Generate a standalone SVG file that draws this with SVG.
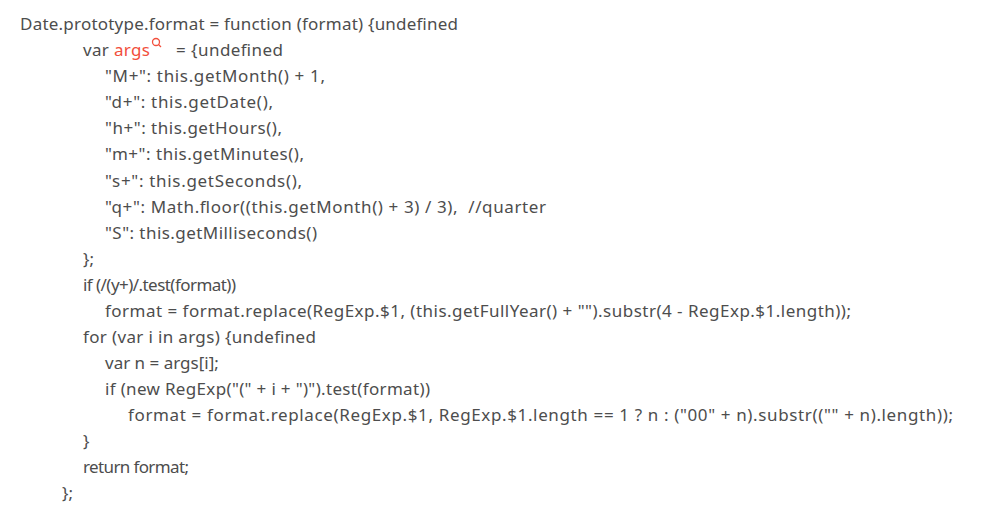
<svg xmlns="http://www.w3.org/2000/svg" width="981" height="522" viewBox="0 0 981 522">
<style>text{font-family:"Noto Sans","Open Sans",sans-serif;font-size:17px;fill:#4d4d4d;white-space:pre}.r{fill:#f24f3c}</style>
<rect width="981" height="522" fill="#fff"/>
<g transform="translate(0,1)">
<text x="20" y="29" textLength="438">Date.prototype.format = function (format) {undefined</text>
<text x="83" y="55" textLength="67">var <tspan class="r">args</tspan></text>
<g fill="none" stroke="#f24f3c" stroke-width="1.3"><circle cx="156" cy="41" r="3.5"/><line x1="158.5" y1="43.5" x2="161" y2="46"/></g>
<text x="176" y="55" textLength="107">= {undefined</text>
<text x="105" y="81" textLength="220">"M+": this.getMonth() + 1,</text>
<text x="105" y="107" textLength="168">"d+": this.getDate(),</text>
<text x="105" y="133" textLength="177">"h+": this.getHours(),</text>
<text x="105" y="159" textLength="199">"m+": this.getMinutes(),</text>
<text x="105" y="186" textLength="197">"s+": this.getSeconds(),</text>
<text x="105" y="212" textLength="441">"q+": Math.floor((this.getMonth() + 3) / 3),  //quarter</text>
<text x="105" y="238" textLength="212">"S": this.getMilliseconds()</text>
<text x="83" y="264">};</text>
<text x="83" y="290" textLength="153">if (/(y+)/.test(format))</text>
<text x="105" y="316" textLength="746">format = format.replace(RegExp.$1, (this.getFullYear() + "").substr(4 - RegExp.$1.length));</text>
<text x="83" y="342" textLength="233">for (var i in args) {undefined</text>
<text x="105" y="368">var n = args[i];</text>
<text x="105" y="394" textLength="325">if (new RegExp("(" + i + ")").test(format))</text>
<text x="128" y="420" textLength="825">format = format.replace(RegExp.$1, RegExp.$1.length == 1 ? n : ("00" + n).substr(("" + n).length));</text>
<text x="83" y="446">}</text>
<text x="83" y="472" textLength="106">return format;</text>
<text x="62" y="498">};</text>
</g>
</svg>
